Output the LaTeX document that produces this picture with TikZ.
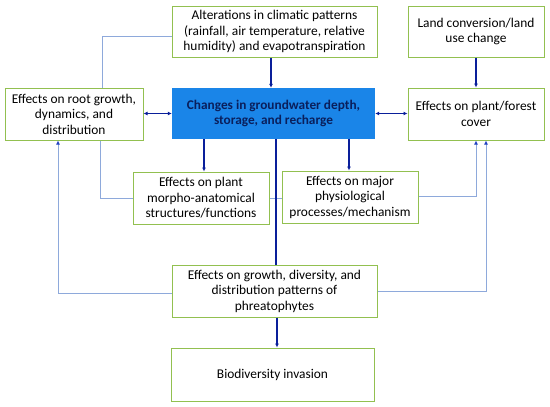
\documentclass[tikz,border=0pt]{standalone}
\usepackage{fontspec}
\setmainfont{Carlito}
\usetikzlibrary{arrows.meta}
\definecolor{boxgreen}{HTML}{92C050}
\definecolor{navy}{HTML}{0A1F9A}
\definecolor{thinblue}{HTML}{8EA9DB}
\definecolor{tipblue}{HTML}{2040C0}
\definecolor{centfill}{HTML}{1A85E8}
\definecolor{centtext}{HTML}{0A1F5C}
\tikzset{
  gbox/.style={draw=boxgreen, line width=1pt, fill=white, align=center, inner sep=1pt,
    font=\fontsize{13.4}{15.5}\selectfont, text=black},
  cbox/.style={fill=centfill, draw=none, align=center, inner sep=1pt,
    font=\fontsize{13.3}{15.7}\selectfont\bfseries, text=centtext},
  thick arrow/.style={draw=navy, line width=1.6pt, -{Latex[length=4pt,width=4pt]}},
  thick double/.style={draw=navy, line width=1.6pt, {Latex[length=4pt,width=4pt]}-{Latex[length=4pt,width=4pt]}},
  thick line/.style={draw=navy, line width=1.6pt},
  thin line/.style={draw=thinblue, line width=1pt},
  thin arrow/.style={draw=thinblue, line width=1pt, -{Latex[length=4pt,width=4pt,color=tipblue]}},
}
\begin{document}
\begin{tikzpicture}[x=1pt,y=-1pt]
\useasboundingbox[fill=white] (0,0) rectangle (550,407);

\node[gbox, minimum width=205pt, minimum height=51pt] (clim) at (274.5,31.5)
  {Alterations in climatic patterns\\(rainfall, air temperature, relative\\humidity) and evapotranspiration};
\node[gbox, minimum width=136pt, minimum height=51pt] (land) at (476,31.5)
  {Land conversion/land\\use change};
\node[gbox, minimum width=138pt, minimum height=52pt] (root) at (74,114)
  {Effects on root growth,\\dynamics, and\\distribution};
\node[cbox, minimum width=203pt, minimum height=51pt] (cent) at (273.5,113.5)
  {Changes in groundwater depth,\\storage, and recharge};
\node[gbox, minimum width=136pt, minimum height=52pt] (forest) at (476,114)
  {Effects on plant/forest\\cover};
\node[gbox, minimum width=136pt, minimum height=52pt] (morph) at (201,198)
  {Effects on plant\\morpho-anatomical\\structures/functions};
\node[gbox, minimum width=136pt, minimum height=52pt] (phys) at (350,197)
  {Effects on major\\physiological\\processes/mechanism};
\node[gbox, minimum width=205pt, minimum height=52pt] (grow) at (274.5,291)
  {Effects on growth, diversity, and\\distribution patterns of\\phreatophytes};
\node[gbox, minimum width=203pt, minimum height=53pt] (bio) at (272.5,374.5)
  {Biodiversity invasion};

% thin connectors
\draw[thin line] ([yshift=-4.5pt]clim.west) -| ([xshift=28pt]root.north);
\draw[thin line] ([xshift=26pt]root.south) |- (morph.west);
\draw[thin line] (morph.east) -- (phys.west |- morph.east);
\draw[thin arrow] ([yshift=-2pt]grow.west) -| ([xshift=-16pt]root.south);
\draw[thin arrow] (grow.east) -| ([xshift=10pt]forest.south);
\draw[thin arrow] ([yshift=1pt]phys.east) -| (forest.south);

% thick connectors
\draw[thick arrow] ([xshift=-3.5pt]clim.south) -- ([xshift=-3.5pt]clim.south |- cent.north);
\draw[thick arrow] (land.south) -- (forest.north);
\draw[thick double] (root.east |- cent.west) -- (cent.west);
\draw[thick double] (cent.east) -- (forest.west |- cent.east);
\draw[thick arrow] ([xshift=3pt]morph.north |- cent.south) -- ([xshift=3pt]morph.north);
\draw[thick arrow] ([xshift=-1pt]phys.north |- cent.south) -- ([xshift=-1pt]phys.north);
\draw[thick line] ([xshift=2.5pt]cent.south) -- ([xshift=2.5pt]cent.south |- grow.north);
\draw[thick arrow] ([xshift=2.5pt]grow.south) -- ([xshift=2.5pt]grow.south |- bio.north);
\end{tikzpicture}
\end{document}
